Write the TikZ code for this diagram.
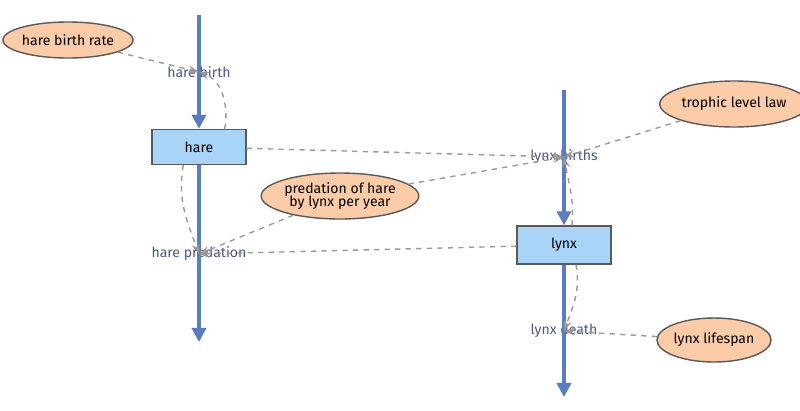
\documentclass[tikz,border=0pt]{standalone}
\usepackage{fontspec}
\setmainfont{Fira Sans}
\usetikzlibrary{shapes.geometric}
\usetikzlibrary{arrows.meta}

\definecolor{flowblue}{HTML}{5B7DBF}
\definecolor{stockfill}{HTML}{A8D4F8}
\definecolor{auxfill}{HTML}{FCCBA8}
\definecolor{linkgray}{HTML}{9A9A9A}
\definecolor{labeltext}{HTML}{4A5A80}

\tikzset{
  stock/.style={draw=black!65, thick, rectangle, minimum height=0.7cm, minimum width=1.88cm, fill=stockfill, font=\footnotesize},
  aux/.style={draw=black!65, thick, ellipse, fill=auxfill, font=\footnotesize, inner sep=0pt, align=center},
  rate/.style={font=\footnotesize, text=labeltext, inner sep=1pt},
  flow/.style={line width=2pt, draw=flowblue, -{Triangle[length=8pt, width=8pt]}},
  link/.style={draw=linkgray, thick, dashed, -{Stealth[length=6pt]}}
}

\begin{document}
\begin{tikzpicture}[x=0.02cm, y=-0.02cm]
        \useasboundingbox (0,0) rectangle (800,410);
        \coordinate (hs) at (199,15);
        \coordinate (he) at (199,342);
        \coordinate (ls) at (564,90);
        \coordinate (le) at (564,397);
        \node [stock] (hare) at (199,147) {hare};
        \node [stock, minimum height=0.76cm] (lynx) at (564,245) {lynx};
        \node [rate] (hb) at (199,72) {hare birth};
        \node [rate] (hp) at (199,254) {hare predation};
        \node [rate] (lb) at (564,157) {lynx births};
        \node [rate] (ld) at (564,331) {lynx death};
        \node [aux, minimum width=2.3cm, minimum height=0.72cm] (hbr) at (68,40) {hare birth rate};
        \node [aux, minimum width=2.2cm, minimum height=0.92cm] (tll) at (734,104) {trophic level law};
        \node [aux, minimum width=2.28cm, minimum height=0.92cm] (phl) at (340,196) {predation of hare\\[-2pt]by lynx per year};
        \node [aux, minimum width=2.24cm, minimum height=0.88cm] (lls) at (714,340) {lynx lifespan};
        \draw[flow] (hs) -- (hare);
        \draw[flow] (hare) -- (he);
        \draw[flow] (ls) -- (lynx);
        \draw[flow] (lynx) -- (le);
        \draw[link] (hbr) -- (hb.center);
        \draw[link] (hare.north east) ++(-22,0) coordinate (h1) (h1) to[out=80, in=-20] (hb.center);
        \draw[link] (hare.south west) ++(32,0) coordinate (h2) (h2) to[out=-100, in=110] (hp.center);
        \draw[link] (hare) -- (lb.center);
        \draw[link] (phl) -- (hp.center);
        \draw[link] (phl) -- (lb.center);
        \draw[link] (lynx) -- (hp.center);
        \draw[link] (tll) -- (lb.center);
        \draw[link] (lynx.north) ++(8,0) coordinate (l1) (l1) to[out=85, in=-80] (lb.center);
        \draw[link] (lynx.south) ++(12,0) coordinate (l2) (l2) to[out=-80, in=70] (ld.center);
        \draw[link] (lls) -- (ld.center);
    \end{tikzpicture}
\end{document}
